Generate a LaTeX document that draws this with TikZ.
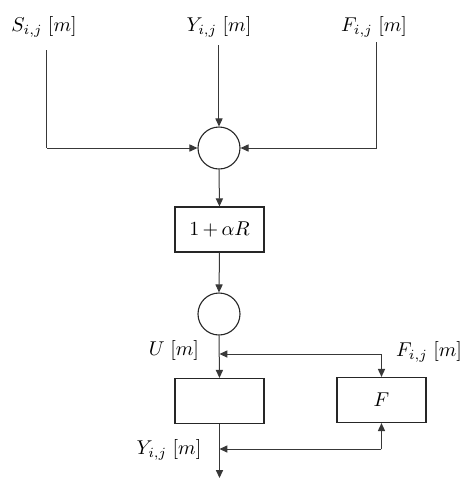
\documentclass[tikz,border=0pt]{standalone}
\usetikzlibrary{arrows.meta}
\begin{document}
\begin{tikzpicture}[x=0.5pt,y=-0.5pt,
  line/.style={draw=black!78, line width=0.5pt},
  arr/.style={line, -{Triangle[length=4pt,width=3.6pt]}},
  sumnode/.style={circle, draw=black!85, line width=0.55pt, minimum size=21pt, inner sep=0pt},
  blockbox/.style={rectangle, draw=black!85, line width=0.6pt, minimum width=44.5pt, minimum height=22.5pt, inner sep=0pt},
  lbl/.style={inner sep=0pt, font=\normalsize}]
\useasboundingbox (0,0) rectangle (474,495);
% labels
\node[lbl] (ls) at (44,27) {$S_{i,j}\;[m]$};
\node[lbl] (ly) at (219,27) {$Y_{i,j}\;[m]$};
\node[lbl] (lf) at (374,27) {$F_{i,j}\;[m]$};
% nodes
\node[sumnode] (c1) at (219,148) {};
\node[blockbox] (b1) at (219.5,229.5) {$1{\,+\,}\alpha R$};
\node[sumnode] (c2) at (219,314) {};
\node[blockbox] (b2) at (219.5,401) {};
\node[blockbox] (bf) at (381.5,400) {$F$};
\node[lbl] (lu) at (174,350) {$U\;[m]$};
\node[lbl] (lf2) at (429,352) {$F_{i,j}\;[m]$};
\node[lbl] (ly2) at (169,450) {$Y_{i,j}\;[m]$};
% coordinates
\coordinate (s0) at (47,50);
\coordinate (sc) at (47,148);
\coordinate (y0) at (219,45);
\coordinate (f0) at (377,42);
\coordinate (fc) at (377,148);
\coordinate (j1) at (219.5,354);
\coordinate (k1) at (381.5,354);
\coordinate (j2) at (219.5,449);
\coordinate (k2) at (381.5,449);
\coordinate (out) at (219.5,478);
% connectors
\draw[line] (s0) -- (sc);
\draw[arr] (sc) -- (c1.west);
\draw[line] (f0) -- (fc);
\draw[arr] (fc) -- (c1.east);
\draw[arr] (y0) -- (c1.north);
\draw[arr] (c1.south) -- (b1.north);
\draw[arr] (b1.south) -- (c2.north);
\draw[arr] (c2.south) -- (b2.north);
\draw[arr] (k1) -- (j1);
\draw[arr] (k1) -- (bf.north);
\draw[arr] (b2.south) -- (out);
\draw[arr] (k2) -- (j2);
\draw[arr] (k2) -- (bf.south);
\end{tikzpicture}
\end{document}
